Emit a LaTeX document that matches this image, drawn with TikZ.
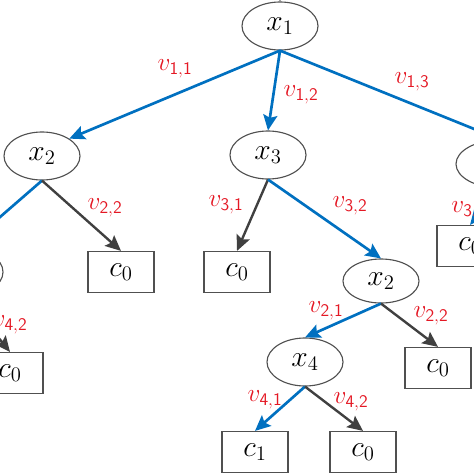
\RequirePackage{fix-cm}
\documentclass[tikz,border=0pt]{standalone}
\usepackage{tikz}
\usepackage{xcolor}
\usetikzlibrary{shapes.geometric}
\usetikzlibrary{arrows.meta}
\usetikzlibrary{positioning}

\definecolor{edgeblue}{RGB}{0,112,192}
\definecolor{edgedark}{RGB}{64,64,64}
\definecolor{labelred}{RGB}{228,24,36}
\definecolor{nodegray}{RGB}{80,80,80}

\begin{document}
\begin{tikzpicture}[x=0.025cm, y=-0.025cm]
\tikzset{
var/.style={ellipse, draw=nodegray, line width=0.8pt, minimum width=1.9cm,
    minimum height=1.2cm, inner sep=0pt, font=\fontsize{21}{25}\selectfont},
leaf/.style={rectangle, draw=nodegray, line width=1pt, minimum width=1.65cm,
    minimum height=1.02cm, inner sep=0pt, font=\fontsize{21}{25}\selectfont},
yesedge/.style={draw=edgeblue, line width=1.9pt,
    -{Stealth[length=11pt,width=10pt,inset=2pt]}},
noedge/.style={draw=edgedark, line width=1.7pt,
    -{Stealth[length=11pt,width=10pt,inset=2pt]}},
weight/.style={text=labelred, font=\fontsize{18}{21}\selectfont, inner sep=0pt}
 }
\useasboundingbox (0,0) rectangle (474,474);
\clip (0,0) rectangle (474,474);

\node[var] (x1) at (280,26) {$x_1$};
\node[var] (x2a) at (42,156) {$x_2$};
\node[var] (x3) at (268,155) {$x_3$};
\node[var, minimum width=2.2cm] (x3r) at (500,164) {};
\node[var] (x4a) at (-35,272) {};
\node[var, minimum height=1.1cm] (x2b) at (381,281) {$x_2$};
\node[var] (x4b) at (305,362) {$x_4$};

\node[leaf] (c0a) at (121,272) {$c_0$};
\node[leaf] (c0b) at (237,272) {$c_0$};
\node[leaf] (cr) at (470,246) {$c_0$};
\node[leaf] (c0l) at (10,373) {$c_0$};
\node[leaf] (c0c) at (438,368) {$c_0$};
\node[leaf] (c1) at (255,452) {$c_1$};
\node[leaf] (c0d) at (363,452) {$c_0$};

\coordinate (top) at (280,-40);

\draw[noedge] (top) -- (x1.north);
\draw[yesedge] (x1.south) -- (x2a.north east);
\draw[yesedge] (x1.south) -- (x3.north);
\draw[yesedge] (x1.south) -- (x3r.north);
\draw[yesedge] (x2a.south) -- (x4a.north);
\draw[noedge] (x2a.south) -- (c0a.north);
\draw[noedge] (x3.south) -- (c0b.north);
\draw[yesedge] (x3.south) -- (x2b.north);
\draw[yesedge] (x3r.south) -- (cr.north);
\draw[noedge] (x4a.south) -- (c0l.north);
\draw[yesedge] (x2b.south) -- (x4b.north);
\draw[noedge] (x2b.south) -- (c0c.north);
\draw[yesedge] (x4b.south) -- (c1.north);
\draw[noedge] (x4b.south) -- (c0d.north);

\node[weight] (w11) at (175,69) {$v_{\mathsf{1,1}}$};
\node[weight] (w12) at (301,95) {$v_{\mathsf{1,2}}$};
\node[weight] (w13) at (412,82) {$v_{\mathsf{1,3}}$};
\node[weight] (w22a) at (105,208) {$v_{\mathsf{2,2}}$};
\node[weight] (w31) at (226,205) {$v_{\mathsf{3,1}}$};
\node[weight] (w32) at (350,206) {$v_{\mathsf{3,2}}$};
\node[weight, anchor=west] (w31r) at (451,211) {$v_{\mathsf{3,1}}$};
\node[weight] (w42a) at (10,325) {$v_{\mathsf{4,2}}$};
\node[weight] (w21) at (326,311) {$v_{\mathsf{2,1}}$};
\node[weight] (w22) at (431,316) {$v_{\mathsf{2,2}}$};
\node[weight] (w41) at (265,400) {$v_{\mathsf{4,1}}$};
\node[weight] (w42) at (351,402) {$v_{\mathsf{4,2}}$};
\end{tikzpicture}
\end{document}
